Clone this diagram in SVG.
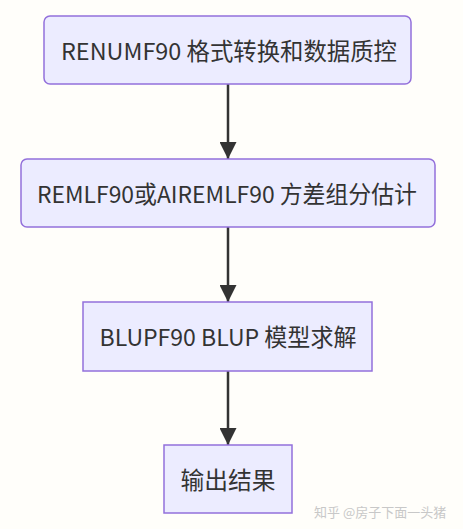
<svg xmlns="http://www.w3.org/2000/svg" width="463" height="529" viewBox="0 0 463 529">
<defs>
<style>
.node rect{fill:#ECECFF;stroke:#9370DB;stroke-width:1.5}
.node text{font-family:"Noto Sans CJK SC","Noto Sans",sans-serif;font-size:23.5px;fill:#333;text-anchor:middle;dominant-baseline:central}
.edge{stroke:#333;stroke-width:2.5;fill:none}
.wm{font-family:"Noto Sans CJK SC",sans-serif;font-size:13px;fill:#c8c8c8}
</style>
<marker id="arrow" viewBox="0 0 10 10" refX="10" refY="5" markerUnits="userSpaceOnUse" markerWidth="17" markerHeight="17" orient="auto">
<path d="M0,0 L10,5 L0,10 z" fill="#333"/>
</marker>
</defs>
<rect width="463" height="529" fill="#fffefa"/>
<g id="connectors">
<line class="edge" x1="228" y1="84" x2="228" y2="159" marker-end="url(#arrow)"/>
<line class="edge" x1="228" y1="227" x2="228" y2="302" marker-end="url(#arrow)"/>
<line class="edge" x1="228" y1="371" x2="228" y2="445" marker-end="url(#arrow)"/>
</g>
<g id="n1" class="node">
<rect x="44" y="16" width="367" height="68" rx="6"/>
<text x="229" y="50" textLength="336" lengthAdjust="spacingAndGlyphs">RENUMF90 格式转换和数据质控</text>
</g>
<g id="n2" class="node">
<rect x="21" y="159" width="414" height="68" rx="6"/>
<text x="227" y="193" textLength="380" lengthAdjust="spacingAndGlyphs">REMLF90或AIREMLF90 方差组分估计</text>
</g>
<g id="n3" class="node">
<rect x="83" y="302" width="289" height="69"/>
<text x="228" y="336" textLength="257" lengthAdjust="spacingAndGlyphs">BLUPF90 BLUP 模型求解</text>
</g>
<g id="n4" class="node">
<rect x="164" y="445" width="128" height="68"/>
<text x="228" y="479" textLength="95" lengthAdjust="spacingAndGlyphs">输出结果</text>
</g>
<text class="wm" x="314" y="517">知乎 @房子下面一头猪</text>
</svg>
